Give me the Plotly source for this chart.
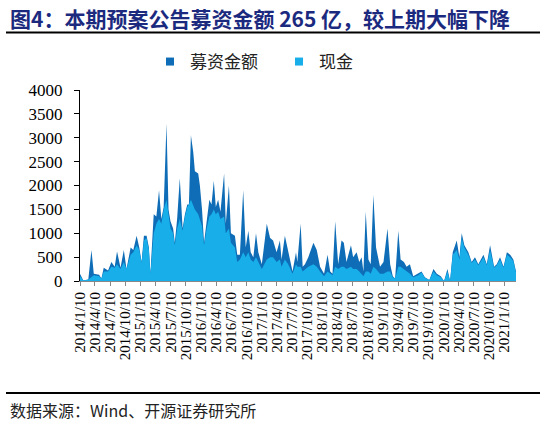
import plotly.graph_objects as go

dates = [
 "2014-01-10","2014-01-30","2014-03-01","2014-03-20","2014-04-03","2014-05-05","2014-05-19","2014-06-02","2014-06-28","2014-07-18",
 "2014-08-07","2014-08-21","2014-09-11","2014-10-01","2014-10-17","2014-11-11","2014-11-27","2014-12-17","2015-01-02","2015-01-16",
 "2015-01-30","2015-02-15","2015-03-01","2015-03-10","2015-03-30","2015-04-15","2015-05-01","2015-05-15","2015-05-29","2015-06-15",
 "2015-06-27","2015-07-09","2015-07-25","2015-08-04","2015-08-18","2015-09-03","2015-09-20","2015-10-04","2015-10-18","2015-10-28",
 "2015-11-09","2015-11-23","2015-12-03","2015-12-23","2016-01-02","2016-01-15","2016-01-27","2016-02-12","2016-02-28","2016-03-12",
 "2016-03-26","2016-04-07","2016-04-21","2016-05-05","2016-05-27","2016-06-06","2016-06-25","2016-07-07","2016-07-31","2016-08-14",
 "2016-08-30","2016-09-19","2016-10-04","2016-10-20","2016-11-03","2016-11-19","2016-12-05","2016-12-19","2017-01-09","2017-02-08",
 "2017-02-28","2017-03-18","2017-04-08","2017-04-28","2017-05-08","2017-05-28","2017-06-17","2017-07-13","2017-08-03","2017-08-11",
 "2017-08-31","2017-09-12","2017-09-26","2017-10-16","2017-11-16","2017-12-06","2017-12-26","2018-01-19","2018-02-09","2018-02-25",
 "2018-03-11","2018-03-27","2018-04-14","2018-05-04","2018-05-18","2018-06-03","2018-06-30","2018-07-13","2018-08-03","2018-08-19",
 "2018-09-02","2018-09-13","2018-09-27","2018-10-13","2018-10-27","2018-11-12","2018-11-28","2018-12-22","2019-01-12","2019-02-05",
 "2019-02-21","2019-03-09","2019-03-23","2019-04-11","2019-04-25","2019-05-15","2019-05-31","2019-06-20","2019-07-10","2019-08-09",
 "2019-08-29","2019-09-18","2019-10-15","2019-11-09","2019-11-29","2019-12-23","2020-01-12","2020-02-01","2020-02-17","2020-03-04",
 "2020-03-28","2020-04-13","2020-04-27","2020-05-13","2020-06-06","2020-06-26","2020-07-16","2020-08-05","2020-09-05","2020-09-25",
 "2020-10-15","2020-11-08","2020-11-24","2020-12-14","2021-01-04","2021-01-24","2021-02-13","2021-03-04","2021-03-20",
]

fundraising = [
 150,10,30,650,150,130,50,280,220,400,
 300,620,280,650,250,700,650,950,700,400,
 950,950,700,150,1400,1350,1900,1300,1550,3300,
 1500,1250,1100,800,1300,2150,1100,1400,1600,1600,
 3050,2700,2300,2250,2000,1500,800,1200,1700,1600,
 2100,1550,1700,1450,2250,1200,2000,1000,950,550,
 550,1900,700,1050,600,500,1000,600,350,1200,
 900,850,600,850,450,950,600,200,600,400,
 1200,300,350,500,800,650,300,150,550,200,
 150,1250,350,850,800,400,750,500,600,400,
 500,200,1450,450,350,1800,700,300,400,1100,
 350,100,50,1050,450,400,300,350,100,150,
 200,80,20,250,150,100,0,250,0,600,
 850,500,1000,750,600,400,500,350,550,350,
 750,300,350,500,300,600,550,450,200,
]

cash = [
 100,10,30,80,120,100,50,200,200,300,
 280,350,250,400,250,550,600,750,650,380,
 850,900,650,150,1000,1200,1300,1200,1500,1700,
 1400,1100,1000,750,1100,1300,1050,1350,1550,1600,
 1700,1600,1500,1400,1300,1150,750,1100,1350,1400,
 1500,1400,1450,1300,1350,1000,1100,800,700,400,
 450,600,500,600,450,400,500,400,250,450,
 500,500,400,450,300,450,350,150,350,300,
 300,200,250,300,350,300,200,100,200,150,
 120,300,250,300,300,250,300,250,250,200,
 150,100,200,200,150,300,250,150,150,200,
 200,80,50,300,300,250,200,150,80,120,
 180,70,20,200,120,80,0,200,0,550,
 650,450,900,700,550,380,450,330,500,330,
 650,280,330,450,280,550,500,420,180,
]

tick_labels = [
 "2014/1/10","2014/4/10","2014/7/10","2014/10/10","2015/1/10","2015/4/10","2015/7/10","2015/10/10",
 "2016/1/10","2016/4/10","2016/7/10","2016/10/10","2017/1/10","2017/4/10","2017/7/10","2017/10/10",
 "2018/1/10","2018/4/10","2018/7/10","2018/10/10","2019/1/10","2019/4/10","2019/7/10","2019/10/10",
 "2020/1/10","2020/4/10","2020/7/10","2020/10/10","2021/1/10",
]
series_names = ["募资金额", "现金"]
title_text = "图4：本期预案公告募资金额 265 亿，较上期大幅下降"
source_text = "数据来源：Wind、开源证券研究所"

DARK = "#0E6DB6"
LIGHT = "#17AEEA"

def to_iso(lbl):
    y, m, d = lbl.split("/")
    return f"{int(y):04d}-{int(m):02d}-{int(d):02d}"

tick_vals = [to_iso(t) for t in tick_labels]

fig = go.Figure()
fig.add_trace(go.Scatter(x=dates, y=fundraising, mode="lines", line=dict(width=0, color=DARK),
                         fill="tozeroy", fillcolor=DARK, showlegend=False, name=series_names[0]))
fig.add_trace(go.Scatter(x=dates, y=cash, mode="lines", line=dict(width=0, color=LIGHT),
                         fill="tozeroy", fillcolor=LIGHT, showlegend=False, name=series_names[1]))
# legend entries (square markers)
fig.add_trace(go.Scatter(x=[None], y=[None], mode="markers", name=series_names[0],
                         marker=dict(symbol="square", size=8, color=DARK)))
fig.add_trace(go.Scatter(x=[None], y=[None], mode="markers", name=series_names[1],
                         marker=dict(symbol="square", size=8, color=LIGHT)))

L, R, T, B = 80, 516, 90, 281
W, H = 540, 425
pw, ph = R - L, B - T
def px(x): return (x - L) / pw
def py(y): return (B - y) / ph

fig.update_layout(
    width=W, height=H,
    margin=dict(l=L, r=W - R, t=T, b=H - B, pad=0),
    paper_bgcolor="white", plot_bgcolor="white",
    showlegend=True,
    legend=dict(orientation="h", x=px(150), y=py(62), xanchor="left", yanchor="middle",
                font=dict(family="Noto Sans CJK SC", size=17, color="#222"),
                itemwidth=30, entrywidth=84, bgcolor="rgba(0,0,0,0)"),
    xaxis=dict(type="date", range=[dates[0], dates[-1]], tickvals=tick_vals, ticktext=tick_labels,
               tickangle=-90, tickfont=dict(family="Liberation Serif", size=15, color="black"),
               showgrid=False, zeroline=False, showline=True, linecolor="#888", linewidth=1,
               ticks="outside", ticklen=4, tickcolor="#888"),
    yaxis=dict(range=[0, 4000], dtick=500, tickfont=dict(family="Liberation Serif", size=17, color="black"),
               showgrid=False, zeroline=False, showline=True, linecolor="black", linewidth=1,
               ticks="outside", ticklen=5, tickcolor="black", ticklabelstandoff=8),
    annotations=[
        dict(text="<b>" + title_text + "</b>", xref="paper", yref="paper", x=px(8), y=py(18),
             xanchor="left", yanchor="middle", showarrow=False,
             font=dict(family="Noto Sans CJK SC", size=21, color="#1B2A7E")),
        dict(text=source_text, xref="paper", yref="paper", x=px(8), y=py(410),
             xanchor="left", yanchor="middle", showarrow=False,
             font=dict(family="Noto Sans CJK SC", size=16, color="#222")),
    ],
    shapes=[
        dict(type="line", xref="paper", yref="paper", x0=px(6), x1=px(540), y0=py(32.5), y1=py(32.5),
             line=dict(color="black", width=2)),
        dict(type="line", xref="paper", yref="paper", x0=px(6), x1=px(540), y0=py(393), y1=py(393),
             line=dict(color="black", width=2)),
    ],
)

fig.write_html("out.html")
